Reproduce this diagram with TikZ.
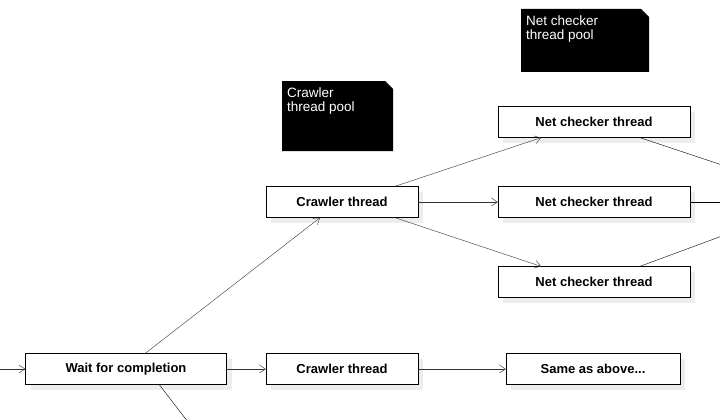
\documentclass[tikz,border=0pt]{standalone}
\usepackage{fontspec}
\setmainfont{Liberation Sans}
\usetikzlibrary{shadows,arrows.meta}

\tikzset{
  thread/.style={draw, fill=white, font=\bfseries\fontsize{13}{15}\selectfont,
    inner sep=0pt, minimum height=31pt,
    drop shadow={shadow xshift=5pt, shadow yshift=-5pt, fill=black!7, opacity=1}},
  flow/.style={-{Straight Barb[length=6pt,width=8pt]}, draw=black!80},
  notetext/.style={font=\fontsize{13.5}{14}\selectfont, text=white, align=left, anchor=north west, inner sep=0pt}
}

\begin{document}
\begin{tikzpicture}[x=1pt,y=-1pt]
  \useasboundingbox (0,0) rectangle (720,420);

  % notes
  \fill (282,81) -- (385,81) -- (393,89) -- (393,151) -- (282,151) -- cycle;
  \node[notetext] (crawlnote) at (287,88) {Crawler\\thread pool};
  \fill (521,9) -- (641,9) -- (649,17) -- (649,72) -- (521,72) -- cycle;
  \node[notetext] (netnote) at (526,16) {Net checker\\thread pool};

  % threads
  \node[thread, minimum width=152pt] (crawlA) at (342,202) {Crawler thread};
  \node[thread, minimum width=192pt] (netA) at (594,122) {Net checker thread};
  \node[thread, minimum width=192pt] (netB) at (594,202) {Net checker thread};
  \node[thread, minimum width=192pt] (netC) at (594,282) {Net checker thread};
  \node[thread, minimum width=201pt] (wait) at (126,369) {Wait for completion};
  \node[thread, minimum width=152pt] (crawlB) at (342,369) {Crawler thread};
  \node[thread, minimum width=174pt] (same) at (593,369) {Same as above...};

  \coordinate (in) at (0,369);
  \coordinate (down) at (188,422);
  \coordinate (outA) at (722,165);
  \coordinate (outB) at (722,202);
  \coordinate (outC) at (722,236);

  % connectors
  \draw[flow] (in) -- (wait);
  \draw[flow] (wait.north west) ++(120,0) -- ([xshift=-22pt]crawlA.south);
  \draw (wait.south west) ++(134,0) -- (down);
  \draw[flow] (wait) -- (crawlB);
  \draw[flow] (crawlB) -- (same);
  \draw[flow] ([xshift=53pt]crawlA.north) -- ([xshift=-53pt]netA.south);
  \draw[flow] (crawlA) -- (netB);
  \draw[flow] ([xshift=53pt]crawlA.south) -- ([xshift=-53pt]netC.north);
  \draw ([xshift=46pt]netA.south) -- (outA);
  \draw (netB) -- (outB);
  \draw ([xshift=46pt]netC.north) -- (outC);
\end{tikzpicture}
\end{document}
